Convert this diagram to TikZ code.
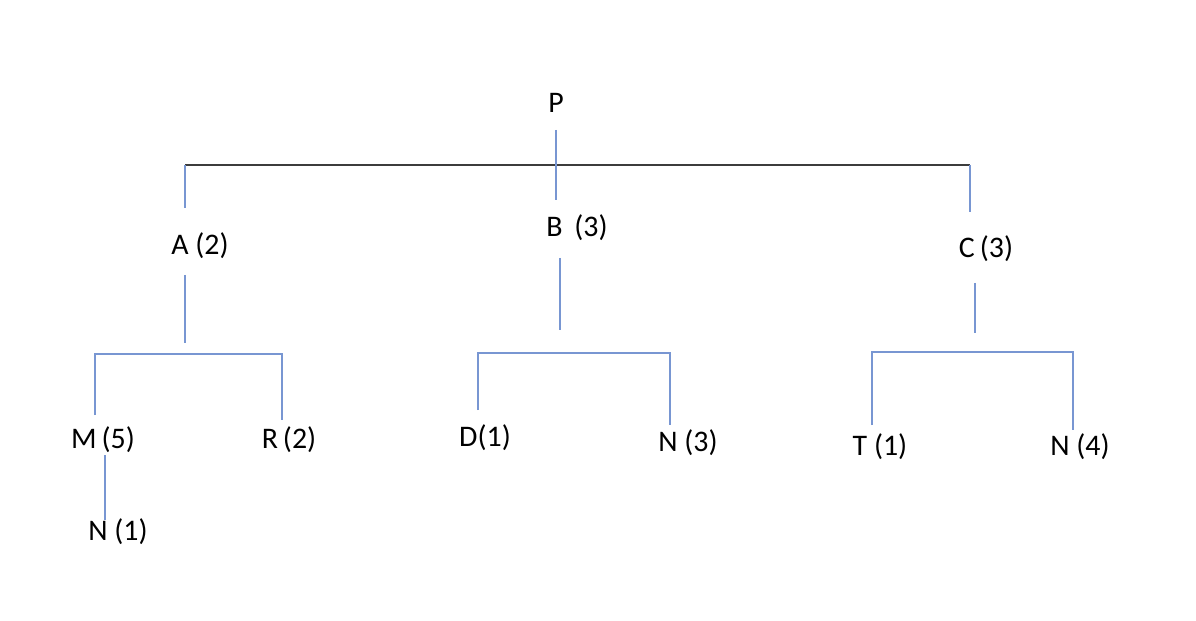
\documentclass[tikz,border=0pt]{standalone}
\usepackage{fontspec}
\setmainfont{Carlito}
\definecolor{ln}{RGB}{120,150,210}
\definecolor{dk}{RGB}{60,60,60}
\begin{document}
\begin{tikzpicture}[x=0.02cm,y=-0.02cm,
  lbl/.style={font=\fontsize{17}{19}\selectfont, inner sep=0pt},
  bl/.style={draw=ln, line width=0.6pt}]
\useasboundingbox (0,0) rectangle (1196,621);
\node[lbl] (P) at (556,103) {P};
\node[lbl] (A) at (200,246) {A (2)};
\node[lbl] (B) at (577,228) {B \,(3)};
\node[lbl] (C) at (986,249) {C\,(3)};
\node[lbl] (M) at (103,440) {M\,(5)};
\node[lbl] (R) at (289,440) {R\,(2)};
\node[lbl] (N1) at (118,532) {N (1)};
\node[lbl] (D) at (485,438) {D(1)};
\node[lbl] (N3) at (688,443) {N (3)};
\node[lbl] (T) at (880,447) {T (1)};
\node[lbl] (N4) at (1080,447) {N (4)};
\draw[dk, line width=0.6pt] (185,165) -- (970,165);
\draw[bl] (556,130) -- (556,200);
\draw[bl] (185,165) -- (185,208);
\draw[bl] (970,165) -- (970,212);
\draw[bl] (185,275) -- (185,343);
\draw[bl] (95,415) -- (95,354) -- (282,354) -- (282,420);
\draw[bl] (105,455) -- (105,520);
\draw[bl] (560,258) -- (560,330);
\draw[bl] (478,410) -- (478,353) -- (670,353) -- (670,425);
\draw[bl] (975,283) -- (975,333);
\draw[bl] (872,425) -- (872,352) -- (1073,352) -- (1073,430);
\end{tikzpicture}
\end{document}
